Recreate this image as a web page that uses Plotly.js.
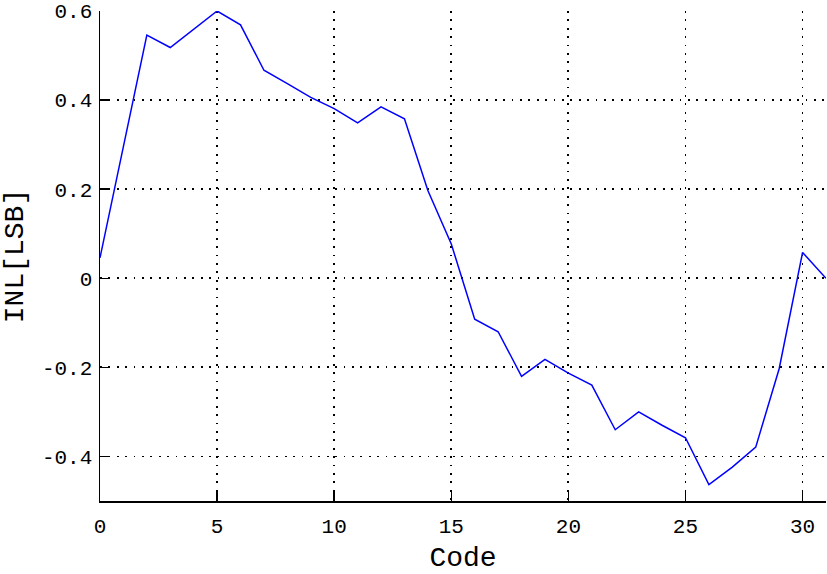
<!DOCTYPE html>
<html>
<head>
<meta charset="utf-8">
<script src="https://cdn.plot.ly/plotly-3.0.1.min.js"></script>
<style>html,body{margin:0;padding:0;background:#fff;}#chart{width:827px;height:574px;}</style>
</head>
<body>
<div id="chart"></div>
<script>
const codes = [0,1,2,3,4,5,6,7,8,9,10,11,12,13,14,15,16,17,18,19,20,21,22,23,24,25,26,27,28,29,30,31];
const inl = [0.046,0.30,0.546,0.518,0.558,0.600,0.569,0.467,0.437,0.406,0.381,0.349,0.385,0.358,0.197,0.077,
             -0.092,-0.120,-0.220,-0.182,-0.213,-0.240,-0.340,-0.300,-0.330,-0.358,-0.463,-0.424,-0.379,-0.203,0.058,0.000];
const xTicks = [0,5,10,15,20,25,30];
const yTicks = [-0.4,-0.2,0,0.2,0.4,0.6];
const yTickText = ['-0.4','-0.2','0','0.2','0.4','0.6'];

const tickFont = {family: 'Liberation Mono, DejaVu Sans Mono, monospace', size: 21, color: '#000'};
const titleFont = {family: 'Liberation Mono, DejaVu Sans Mono, monospace', size: 28, color: '#000'};

Plotly.newPlot('chart', [{
  x: codes, y: inl, type: 'scatter', mode: 'lines',
  line: {color: '#0000ff', width: 1.5}
}], {
  width: 827, height: 574,
  margin: {l: 100, r: 1, t: 11, b: 73},
  paper_bgcolor: '#fff', plot_bgcolor: '#fff',
  showlegend: false,
  xaxis: {
    range: [0, 31], tickvals: xTicks, ticks: 'inside', ticklen: 10, tickcolor: '#000', tickwidth: 1.5,
    showline: true, linecolor: '#000', linewidth: 1.5, mirror: false,
    showgrid: true, gridcolor: '#000', gridwidth: 1.8, griddash: '1.8px,6.6px',
    zeroline: false, tickfont: tickFont, ticklabelstandoff: 5,
    title: {text: 'Code', font: titleFont, standoff: 10}
  },
  yaxis: {
    range: [-0.5, 0.6], tickvals: yTicks, ticktext: yTickText, ticks: 'inside', ticklen: 8, tickcolor: '#000', tickwidth: 1.5,
    showline: true, linecolor: '#000', linewidth: 1.5, mirror: false,
    showgrid: true, gridcolor: '#000', gridwidth: 1.8, griddash: '1.8px,6.6px',
    zeroline: false, tickfont: tickFont, ticklabelstandoff: 2,
    title: {text: 'INL[LSB]', font: titleFont, standoff: 12}
  }
}, {staticPlot: true});
</script>
</body>
</html>
